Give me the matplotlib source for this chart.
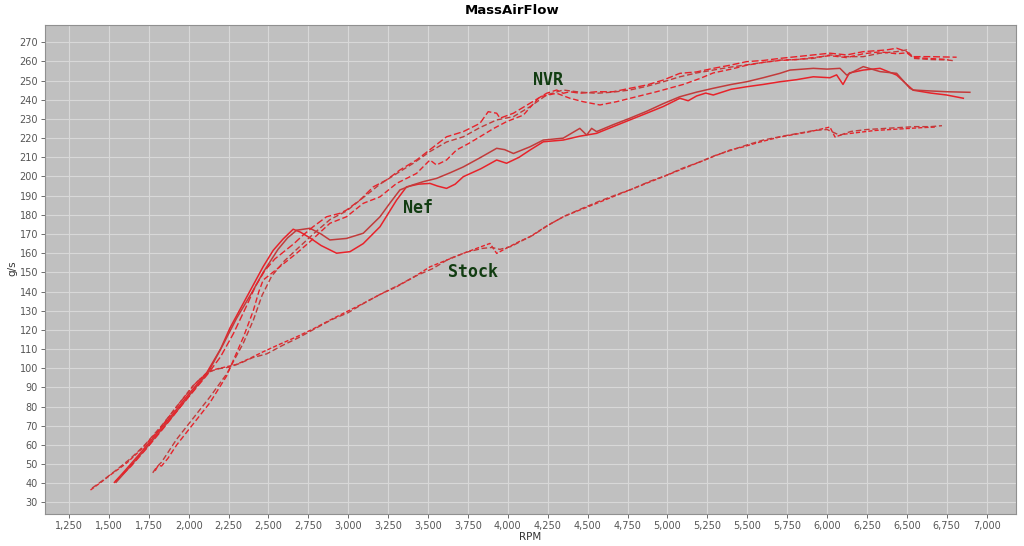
import matplotlib
matplotlib.use("Agg")
import matplotlib.pyplot as plt
from matplotlib.ticker import FixedLocator, FuncFormatter

# --- data (RPM, g/s) ---
stock1_rpm = [1385, 1450, 1520, 1611, 1700, 1820, 1920, 2029, 2112, 2170, 2238, 2300, 2380, 2467,
              2570, 2677, 2780, 2885, 2990, 3094, 3200, 3303, 3410, 3512, 3620, 3721, 3820, 3888,
              3930, 4000, 4070, 4139, 4240, 4347, 4450, 4556, 4660, 4765, 4870, 4974, 5080, 5183,
              5290, 5392, 5473, 5580, 5700, 5800, 5900, 6018, 6050, 6100, 6200, 6300, 6400, 6500,
              6600, 6689]
stock1_gs = [36.5, 40.5, 45, 50.5, 57.5, 68.5, 79.5, 91, 97.5, 99.5, 100.8, 102, 105, 108.6,
             112.5, 116.4, 120.5, 125.1, 129.5, 133.8, 138.5, 142.5, 147.5, 152.9, 156.5, 159.9, 163, 165.1,
             159.9, 163, 166, 168.6, 174, 179, 182.5, 186, 189.5, 193, 196.5, 199.9, 203.5, 206.9,
             210.5, 213.8, 215.4, 218, 220.5, 222, 223.5, 225.8, 220.6, 222, 223, 224, 224.5, 225,
             225.5, 225.8]

stock2_rpm = [1395, 1470, 1540, 1630, 1720, 1830, 1930, 2040, 2120, 2190, 2250, 2320, 2400, 2489,
              2590, 2690, 2800, 2900, 3000, 3110, 3210, 3320, 3420, 3530, 3630, 3740, 3840, 3900,
              3950, 4020, 4100, 4160, 4260, 4360, 4470, 4570, 4680, 4780, 4890, 4990, 5100, 5200,
              5300, 5410, 5500, 5600, 5720, 5820, 5920, 6000, 6040, 6080, 6150, 6250, 6350, 6450,
              6550, 6650, 6720]
stock2_gs = [37.5, 42, 46.5, 52.5, 59.5, 70, 80.5, 92, 98, 99.8, 100.5, 102.5, 105.5, 107.5,
             112, 116, 121, 125.5, 129, 134.5, 139, 143.5, 148, 152, 157, 160.5, 162.5, 163,
             162, 163.5, 167, 169.5, 175, 179.5, 183.5, 187, 190.5, 193.5, 197.5, 200.5, 204.5, 207.5,
             211, 214, 216.5, 219, 221, 222.5, 224, 224.5, 223, 221.5, 223.5, 224.5, 225, 225.5,
             226, 226, 226.5]

nefA_rpm = [1535, 1600, 1700, 1800, 1900, 2000, 2112, 2200, 2259, 2363, 2467, 2530, 2593, 2655,
            2700, 2760, 2830, 2927, 3011, 3094, 3199, 3303, 3365, 3440, 3512, 3560, 3616, 3670,
            3721, 3830, 3930, 3992, 4070, 4139, 4222, 4347, 4450, 4556, 4660, 4765, 4870, 4974,
            5078, 5130, 5183, 5240, 5287, 5400, 5496, 5600, 5705, 5810, 5914, 6018, 6060, 6100,
            6140, 6227, 6332, 6436, 6500, 6540, 6650, 6749, 6854]
nefA_gs = [40.5, 46.5, 56, 66, 76, 86.5, 97.5, 110, 121, 137, 153, 161.5, 167.5, 172.5,
           171, 168, 164, 160, 160.8, 165, 173.8, 187.7, 194.6, 196, 196.4, 195, 193.8, 196,
           199.9, 204, 208.6, 206.9, 210, 213.8, 218.1, 219, 221, 222.5, 226, 229.5, 233, 236.5,
           240.8, 239.5, 242, 243.5, 242.5, 245.5, 246.8, 248, 249.4, 250.5, 252, 251.5, 253, 248,
           254, 255.5, 256.4, 252.9, 248, 245, 243.5, 242.5, 240.8]

nefB_rpm = [1545, 1620, 1720, 1820, 1920, 2020, 2120, 2220, 2300, 2400, 2467, 2560, 2620, 2677,
            2760, 2830, 2885, 2989, 3094, 3199, 3260, 3324, 3400, 3470, 3553, 3640, 3721, 3820,
            3930, 3980, 4035, 4139, 4222, 4347, 4451, 4494, 4525, 4556, 4660, 4765, 4870, 4974,
            5078, 5183, 5287, 5400, 5496, 5600, 5705, 5768, 5850, 5914, 6000, 6081, 6123, 6227,
            6332, 6436, 6519, 6540, 6650, 6749, 6895]
nefB_gs = [40.5, 47.5, 57, 67, 77, 87.5, 97.5, 113, 126, 140, 150, 162, 168, 172,
           173, 170, 166.9, 167.7, 170.4, 179, 186, 193, 195.5, 197.3, 199, 202, 205, 209.5,
           214.7, 214, 212, 215.5, 219, 220, 225.1, 221.6, 225.1, 223.4, 227, 230.4, 234, 238,
           241.6, 244, 246, 248, 249.4, 251.5, 253.8, 255.5, 256, 256.4, 256, 256.4, 252.9, 257.3,
           254.7, 253.8, 246, 245.1, 244.6, 244.2, 243.9]

nvrC1_rpm = [1540, 1640, 1740, 1840, 1940, 2040, 2120, 2200, 2280, 2360, 2420, 2478, 2540, 2600,
             2660, 2718, 2780, 2864, 2948, 2989, 3073, 3157, 3240, 3324, 3428, 3512, 3616, 3721,
             3825, 3877, 3930, 3951, 4035, 4139, 4243, 4306, 4347, 4389, 4451, 4556, 4660, 4765,
             4869, 4974, 5078, 5180, 5287, 5390, 5496, 5600, 5705, 5810, 5914, 6018, 6123, 6227,
             6373, 6436, 6499, 6540, 6645, 6812]
nvrC1_gs = [41, 49, 58.5, 68.5, 79, 89, 97, 106, 118, 132, 143, 151, 157, 161,
            165, 169.5, 173.8, 179, 180.8, 182.5, 187.7, 194.6, 198.2, 203.4, 208.6, 214, 220.7, 223.4,
            227.7, 233.8, 233, 230.4, 233, 238.2, 243.4, 245.1, 243.4, 244.2, 243.4, 244.2, 244.2, 246,
            247.7, 250.3, 253.8, 254.5, 256.4, 258, 259.9, 260.5, 261.6, 262.5, 263.4, 264.3, 263.4, 265.1,
            266, 266.9, 265.1, 262.5, 262.5, 262.2]

nvrC2_rpm = [1775, 1800, 1830, 1925, 2029, 2133, 2238, 2342, 2405, 2460, 2520, 2600, 2677, 2781,
             2885, 2989, 3094, 3199, 3303, 3408, 3512, 3616, 3721, 3825, 3930, 4035, 4139, 4243,
             4347, 4451, 4556, 4660, 4765, 4869, 4974, 5078, 5183, 5287, 5392, 5496, 5600, 5705,
             5810, 5914, 6018, 6123, 6227, 6332, 6436, 6499, 6540, 6650, 6749, 6790]
nvrC2_gs = [45.5, 48.5, 51, 63, 74, 85, 97, 113, 125, 138, 148, 156, 162, 170,
            177.5, 182, 189, 196, 201.5, 206.9, 213, 218, 220.7, 225.5, 229.5, 231.2, 236.4, 242.5,
            245.1, 244, 243.4, 244, 245.1, 247, 249.4, 252, 254, 255.5, 257, 258.2, 259.5, 260.7,
            261, 261.6, 263.4, 262.5, 262.5, 264.3, 265.1, 266, 261.6, 261, 260.8, 260.4]

nvrD_rpm = [1790, 1810, 1830, 1870, 1925, 2029, 2133, 2238, 2300, 2342, 2405, 2440, 2467, 2572,
            2677, 2760, 2885, 2989, 3094, 3199, 3303, 3428, 3512, 3553, 3616, 3678, 3750, 3825,
            3910, 3992, 4097, 4150, 4201, 4306, 4389, 4472, 4577, 4681, 4806, 4932, 5099, 5200,
            5287, 5400, 5496, 5600, 5705, 5810, 5914, 6018, 6123, 6227, 6332, 6436, 6499, 6540,
            6650, 6760]
nvrD_gs = [46.5, 49.5, 49, 53, 60, 71, 82, 96, 108, 116, 130, 140, 146, 153,
           160, 166, 175.6, 179, 186, 189.4, 196.4, 201.6, 208.6, 206, 208.6, 213.8, 217, 220.7,
           225, 228.6, 232, 237, 241.6, 243.4, 240.8, 239, 237.3, 239, 241.6, 244.2, 248, 251,
           254, 256, 258, 259.5, 260.5, 261, 262, 263, 262, 264, 265, 264, 264.5, 262,
           261.5, 261]

labels = ["NVR", "Nef", "Stock"]
label_rpm = [4251, 3437, 3781]
label_gs = [250.3, 183.5, 150]

# --- figure ---
fig = plt.figure(figsize=(10.24, 5.46), dpi=100)
ax = fig.add_axes([45 / 1024, 1 - 514 / 546, 971 / 1024, 489 / 546])
ax.set_facecolor("#c0c0c0")

red = "#e8222a"
dark = "#c23b3b"

ax.plot(stock1_rpm, stock1_gs, color=red, lw=1.0, ls=(0, (3, 1.5)))
ax.plot(stock2_rpm, stock2_gs, color=dark, lw=1.0, ls=(0, (4, 2)))
ax.plot(nefA_rpm, nefA_gs, color=red, lw=1.1)
ax.plot(nefB_rpm, nefB_gs, color=dark, lw=1.1)
ax.plot(nvrC1_rpm, nvrC1_gs, color=red, lw=1.0, ls=(0, (5, 2)))
ax.plot(nvrC2_rpm, nvrC2_gs, color=dark, lw=1.0, ls=(0, (4, 2)))
ax.plot(nvrD_rpm, nvrD_gs, color=red, lw=1.0, ls=(0, (4, 2)))

for t, xr, yg in zip(labels, label_rpm, label_gs):
    ax.text(xr, yg, t, color="#123d12", fontsize=12, fontweight="bold",
            family="DejaVu Sans Mono", ha="center", va="center")

ax.set_xlim(1100, 7184)
ax.set_ylim(24, 279)
ax.xaxis.set_major_locator(FixedLocator(range(1250, 7001, 250)))
ax.yaxis.set_major_locator(FixedLocator(range(30, 271, 10)))
ax.xaxis.set_major_formatter(FuncFormatter(lambda v, p: f"{int(v):,}"))
ax.grid(True, color="#d8d8d8", lw=0.8)
ax.set_axisbelow(True)
ax.tick_params(labelsize=7, colors="#555555", length=3, width=0.6, pad=2)
for s in ax.spines.values():
    s.set_color("#909090")
    s.set_linewidth(0.8)

fig.text(0.5, 1 - 11 / 546, "MassAirFlow", ha="center", va="center",
         fontsize=9.5, fontweight="bold")
fig.text(530 / 1024, 1 - 537 / 546, "RPM", ha="center", va="center",
         fontsize=7.5, color="#333333")
fig.text(12 / 1024, 1 - 268 / 546, "g/s", ha="center", va="center",
         fontsize=7.5, color="#333333", rotation=90)

fig.savefig("out.png", dpi=100, facecolor="white")
